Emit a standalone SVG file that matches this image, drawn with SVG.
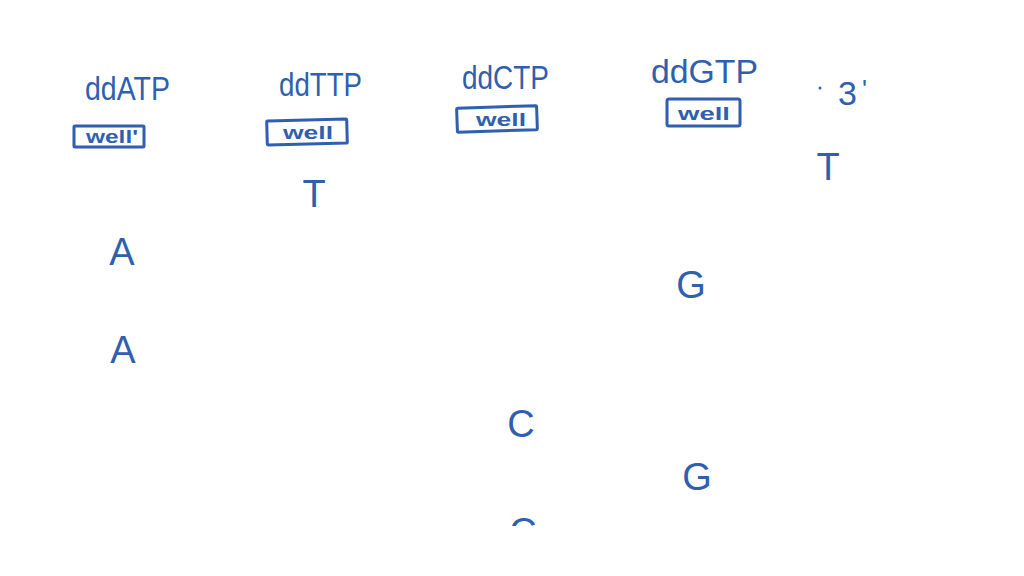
<svg xmlns="http://www.w3.org/2000/svg" width="1024" height="576" viewBox="0 0 1024 576">
<defs>
<style>
.t{font-family:"Liberation Sans","DejaVu Sans",sans-serif;fill:#2f5fae;}
.h{font-size:34px;}
.w{font-size:19px;font-weight:bold;}
.b{font-size:38px;text-anchor:middle;}
.box{fill:none;stroke:#2f5fae;stroke-width:3;}
</style>
<clipPath id="cut"><rect x="0" y="0" width="1024" height="526"/></clipPath>
</defs>
<rect width="1024" height="576" fill="#ffffff"/>
<g id="col-ddATP">
<text class="t h" x="85" y="100" textLength="85" lengthAdjust="spacingAndGlyphs">ddATP</text>
<rect class="box" x="74" y="126" width="70" height="21" rx="1"/>
<text class="t w" x="86" y="143" textLength="52" lengthAdjust="spacingAndGlyphs">well'</text>
</g>
<g id="col-ddTTP">
<text class="t h" x="279" y="96" textLength="83" lengthAdjust="spacingAndGlyphs">ddTTP</text>
<rect class="box" x="267" y="120" width="80" height="24" rx="1" transform="rotate(-1.5 307 132)"/>
<text class="t w" x="283" y="139" textLength="50" lengthAdjust="spacingAndGlyphs">well</text>
</g>
<g id="col-ddCTP">
<text class="t h" x="462" y="89" textLength="87" lengthAdjust="spacingAndGlyphs">ddCTP</text>
<rect class="box" x="457" y="107" width="80" height="24" rx="1" transform="rotate(-2 497 119)"/>
<text class="t w" x="476" y="126" textLength="50" lengthAdjust="spacingAndGlyphs">well</text>
</g>
<g id="col-ddGTP">
<text class="t h" x="651" y="83" textLength="107" lengthAdjust="spacingAndGlyphs">ddGTP</text>
<rect class="box" x="667" y="99" width="73" height="27" rx="2"/>
<text class="t w" x="678" y="120" textLength="52" lengthAdjust="spacingAndGlyphs">well</text>
</g>
<g id="end-3prime">
<circle cx="820" cy="88" r="1.5" fill="#2f5fae"/>
<text class="t" x="838" y="105" font-size="34">3</text>
<text class="t" x="862" y="98" font-size="26">'</text>
</g>
<g id="bases">
<text class="t b" x="828" y="180">T</text>
<text class="t b" x="314" y="207">T</text>
<text class="t b" x="122" y="265">A</text>
<text class="t b" x="123" y="363">A</text>
<text class="t b" x="691" y="298">G</text>
<text class="t b" x="521" y="437">C</text>
<text class="t b" x="697" y="490">G</text>
<text class="t b" x="523" y="545" clip-path="url(#cut)">C</text>
</g>
<g id="connectors"></g>
</svg>
